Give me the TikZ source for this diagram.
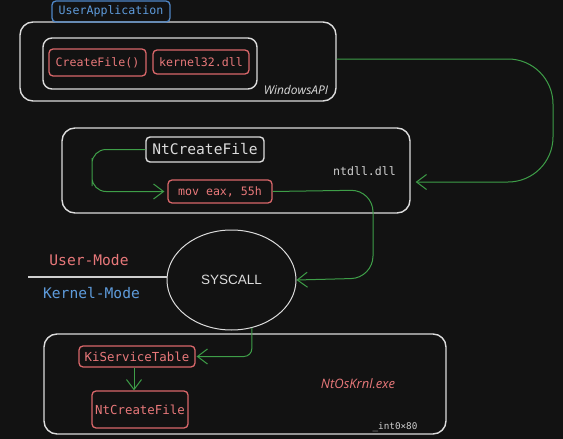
\documentclass[tikz,border=0pt]{standalone}
\usepackage{fontspec}
\setmainfont{Liberation Sans}
\newfontfamily\codefont{DejaVu Sans Mono}
\newfontfamily\handfont{Open Sans}
\usetikzlibrary{arrows.meta,shapes.geometric}
\definecolor{bg}{HTML}{121212}
\definecolor{redc}{HTML}{D9676A}
\definecolor{redt}{HTML}{E8787A}
\definecolor{bluec}{HTML}{4F86C6}
\definecolor{bluet}{HTML}{5E9BDB}
\definecolor{greenc}{HTML}{3E9E48}
\definecolor{whitec}{HTML}{DCDCDC}
\definecolor{greyt}{HTML}{CFCFCF}
\tikzset{
  container/.style={draw=whitec, line width=1.4pt, rounded corners=13pt, inner sep=0pt},
  redbox/.style={draw=redc, line width=1.3pt, rounded corners=4pt, inner sep=0pt, text=redt, font=\codefont\fontsize{11.6}{13}\selectfont},
  whitebox/.style={draw=whitec, line width=1.4pt, rounded corners=4pt, inner sep=0pt, text=whitec, font=\codefont\fontsize{14.6}{16}\selectfont},
  bluebox/.style={draw=bluec, line width=1.3pt, rounded corners=4pt, inner sep=0pt, text=bluet, font=\codefont\fontsize{11.6}{13}\selectfont},
  flow/.style={draw=greenc, line width=1pt, -{Straight Barb[length=10pt,width=15pt]}},
  plain/.style={inner sep=0pt},
}
\begin{document}
\begin{tikzpicture}[x=1pt,y=-1pt]
\fill[bg] (0,0) rectangle (563,439);
\useasboundingbox (0,0) rectangle (563,439);

% top layer
\node[container, minimum width=316pt, minimum height=79pt] (winapi) at (178,61.5) {};
\node[bluebox, minimum width=118pt, minimum height=21pt] (ua) at (111,11.5) {UserApplication};
\node[container, rounded corners=9pt, minimum width=214pt, minimum height=51pt] (inner) at (150,63.5) {};
\node[redbox, minimum width=97pt, minimum height=27pt] (cf) at (97.5,62.5) {CreateFile()};
\node[redbox, minimum width=96pt, minimum height=24pt] (k32) at (201,62) {kernel32.dll};
\node[plain, text=whitec, font=\handfont\itshape\fontsize{12}{14}\selectfont] (winlabel) at (296,90) {WindowsAPI};

% ntdll layer
\node[container, minimum width=348pt, minimum height=85pt] (ntdll) at (236,170.5) {};
\node[whitebox, minimum width=118pt, minimum height=25pt] (ntc) at (205,149.5) {NtCreateFile};
\node[plain, text=greyt, font=\codefont\fontsize{11.6}{13}\selectfont] (ntdlllabel) at (364.5,171) {ntdll.dll};
\node[redbox, minimum width=104pt, minimum height=23pt] (mov) at (220,191.5) {mov eax, 55h};

% syscall
\node[ellipse, draw=whitec, line width=1pt, minimum width=129pt, minimum height=100pt, inner sep=0pt, text=whitec, font=\fontsize{13.5}{15}\selectfont] (sys) at (231.5,280) {SYSCALL};
\coordinate (lineleft) at (28,277);
\draw[greyt, line width=1.3pt] (lineleft) -- (sys.west |- lineleft);
\node[plain, text=redt, font=\codefont\fontsize{14.6}{16}\selectfont] (um) at (89,260) {User-Mode};
\node[plain, text=bluet, font=\codefont\fontsize{14.6}{16}\selectfont] (km) at (91.5,293) {Kernel-Mode};

% kernel layer
\node[container, minimum width=402pt, minimum height=100pt] (nt) at (245,384) {};
\node[redbox, minimum width=116pt, minimum height=21pt, font=\codefont\fontsize{12.4}{14}\selectfont] (ki) at (137,356.5) {KiServiceTable};
\node[redbox, minimum width=96pt, minimum height=37pt, font=\codefont\fontsize{12.4}{14}\selectfont] (ntc2) at (140,409.5) {NtCreateFile};
\node[plain, text=redt, font=\handfont\itshape\fontsize{13}{15}\selectfont] (ntoslabel) at (358,384) {NtOsKrnl.exe};
\node[plain, text=greyt, font=\codefont\fontsize{9.3}{11}\selectfont] (intlabel) at (395,427) {\_int0×80};

% connectors
\draw[flow, rounded corners=14pt] (ntc.west) -| (92,172) |- ([xshift=-3pt]mov.west);
\draw[flow, rounded corners=45pt] (winapi.east |- 0,59) -- (553,59) -- (553,182) -- ([xshift=5pt]ntdll.east |- 0,182);
\draw[flow, rounded corners=22pt] (mov.east) -- (373,190) -- (373,278) -- (sys.east);
\draw[flow, rounded corners=8pt] (sys.293) |- ([xshift=1pt]ki.east);
\draw[flow] ([xshift=-3pt]ki.south) -- ([xshift=-3pt]ki.south |- ntc2.north);
\end{tikzpicture}
\end{document}
